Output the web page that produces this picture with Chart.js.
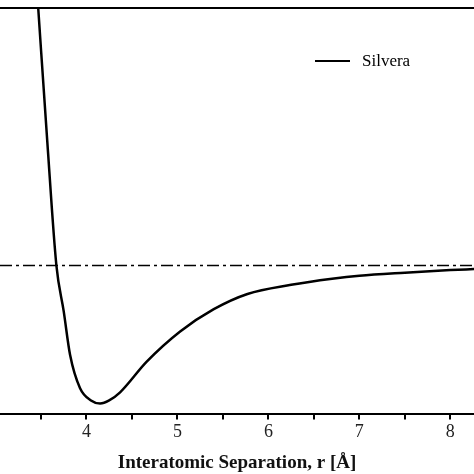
<!DOCTYPE html><html><head><script src="https://cdn.jsdelivr.net/npm/chart.js@4"></script>
<style>html,body{margin:0;padding:0;background:#fff}#w{width:474px;height:474px}</style></head><body><div id="w"><canvas id="c"></canvas></div>
<script>
const rValues=[3.47,3.57,3.67,3.75,3.82,3.93,4.05,4.15,4.25,4.37,4.66,5.03,5.4,5.77,6.25,6.7,7.0,7.5,8.0,8.26];
const energy=[254,122,0,-45,-88,-121,-133,-136,-133,-125,-95,-65,-43,-28,-19,-13,-10,-7,-4.5,-3.5];
const zeroLine=[[3.05,0],[8.26,0]];
const xTicks=[4,5,6,7,8];
const seriesName='Silvera';
const deco={id:'deco',afterDraw(ch){const c=ch.ctx,a=ch.chartArea;c.save();c.strokeStyle='#000';c.lineWidth=2;
c.beginPath();c.moveTo(a.left,a.top);c.lineTo(a.right,a.top);c.stroke();
c.beginPath();c.moveTo(315,61);c.lineTo(350,61);c.stroke();
c.fillStyle='#000';c.font='17px "Liberation Serif"';c.textBaseline='middle';c.fillText(seriesName,362,62);c.restore();}};
new Chart(document.getElementById('c'),{type:'scatter',data:{datasets:[
{data:rValues.map((r,i)=>({x:r,y:energy[i]})),showLine:true,borderColor:'#000',borderWidth:2.5,pointRadius:0,cubicInterpolationMode:'monotone'},
{data:zeroLine.map(p=>({x:p[0],y:p[1]})),showLine:true,borderColor:'#000',borderWidth:1.5,borderDash:[12,4,3,4],pointRadius:0}]},
options:{animation:false,responsive:true,maintainAspectRatio:false,layout:{padding:{top:8,left:0,right:0,bottom:0}},
plugins:{legend:{display:false},tooltip:{enabled:false}},
scales:{y:{display:false,min:-146,max:254},
x:{type:'linear',min:3.05,max:8.26,afterBuildTicks(s){s.ticks=[3.5,4,4.5,5,5.5,6,6.5,7,7.5,8].map(v=>({value:v}));},
grid:{drawOnChartArea:false,tickLength:6,color:'#000',lineWidth:2},border:{color:'#000',width:2},
ticks:{color:'#222',font:{family:'Liberation Serif',size:18},padding:2,callback:v=>xTicks.includes(v)?String(v):''},
title:{display:true,text:'Interatomic Separation, r [Å]',color:'#111',font:{family:'Liberation Serif',size:19,weight:'bold'},padding:{top:6,bottom:0}}}}},plugins:[deco]});
</script></body></html>
